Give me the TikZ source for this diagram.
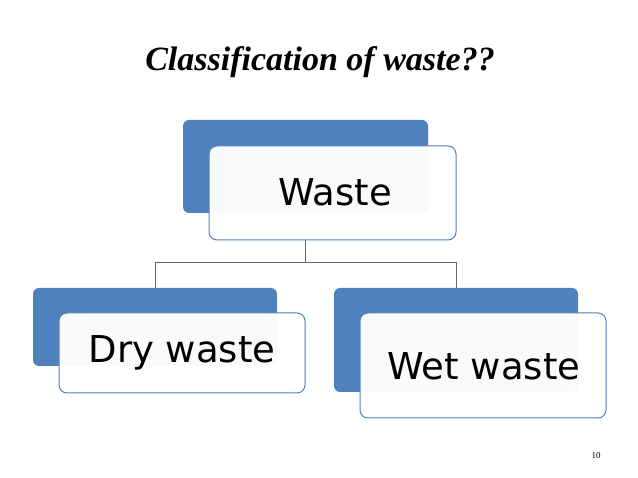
\documentclass[tikz,border=0pt]{standalone}
\usepackage{fontspec}
\setmainfont{Liberation Serif}
\newfontfamily\boxfont{DejaVu Sans}
\begin{document}
\begin{tikzpicture}[x=1pt,y=-1pt,
  back/.style={draw=none,rounded corners=6pt},
  front/.style={fill=white,fill opacity=0.96,line width=1pt,rounded corners=8pt},
  lbl/.style={font=\boxfont\fontsize{37}{40}\selectfont,text=black},
  con/.style={draw=gray!80!black,line width=0.8pt}]
\useasboundingbox (0,0) rectangle (638,478);
\definecolor{bl}{RGB}{79,129,189}
\node[font=\fontsize{34}{38}\selectfont\bfseries\itshape] (title) at (320,62) {Classification of waste??};
\fill[back,fill=bl] (183,120) rectangle (428,213);
\draw[front,draw=bl] (209,146) rectangle (456,240);
\node[lbl] (w) at (335,192) {Waste};
\fill[back,fill=bl] (33,288) rectangle (277,366);
\draw[front,draw=bl] (59,313) rectangle (305,393);
\node[lbl] (d) at (182,353) {Dry waste};
\fill[back,fill=bl] (334,288) rectangle (578,392);
\draw[front,draw=bl] (360,313) rectangle (606,418);
\node[lbl] (wet) at (484,366) {Wet waste};
\coordinate (a) at (305,240);
\coordinate (m) at (305,262);
\coordinate (l) at (155,288);
\coordinate (r) at (456,288);
\draw[con] (a) -- (m);
\draw[con] (l) -- (155,262) -- (456,262) -- (r);
\node[font=\fontsize{9}{10}\selectfont] (pg) at (596,456) {10};
\end{tikzpicture}
\end{document}
